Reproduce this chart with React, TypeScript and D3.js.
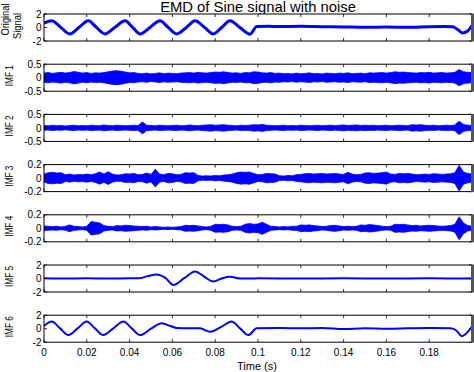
import React from "react";
import * as d3 from "d3";

const W = 474;
const H = 372;
const FONT = "'Liberation Sans', Arial, Helvetica, sans-serif";
const BLUE = "#0000ff";

// time axis
const xDomain = [0, 0.2];
const xTicks = [0, 0.02, 0.04, 0.06, 0.08, 0.1, 0.12, 0.14, 0.16, 0.18];
const xTickLabels = ["0", "0.02", "0.04", "0.06", "0.08", "0.1", "0.12", "0.14", "0.16", "0.18"];

// original signal (read at peaks / zero crossings / troughs)
const origT = [0, 0.0036, 0.0078, 0.0121, 0.0163, 0.0207, 0.0245, 0.0285, 0.033, 0.0379, 0.0414, 0.0449, 0.0495, 0.0542, 0.058, 0.062, 0.0665, 0.0706, 0.075, 0.0791, 0.083, 0.0869, 0.0915, 0.0963, 0.0994, 0.105, 0.11, 0.12, 0.13, 0.14, 0.15, 0.16, 0.17, 0.18, 0.187, 0.191, 0.1935, 0.1955, 0.1978, 0.2];
const origV = [0.65, 1.0, 0.02, -0.95, 0.0, 1.0, 0.02, -0.95, 0.0, 1.0, 0.02, -0.95, 0.0, 1.0, 0.02, -0.95, 0.0, 1.0, 0.02, -0.95, 0.0, 1.0, 0.0, -1.0, 0.15, 0.18, 0.14, 0.18, 0.12, 0.08, 0.03, 0.06, 0.02, 0.12, 0.15, 0.1, -0.35, -0.8, -0.55, 0.3];

// noisy IMFs: half-width of the noise band, every 2 ms from 0 to 0.2 s
const envStep = 0.002;
const imf1Env = [
  0.17, 0.19, 0.16, 0.18, 0.2, 0.17, 0.19, 0.23, 0.2, 0.17, 0.19, 0.16, 0.18, 0.17, 0.19,
  0.22, 0.25, 0.26, 0.24, 0.21, 0.18, 0.19, 0.16, 0.15, 0.17, 0.14, 0.16, 0.18, 0.15, 0.17,
  0.16, 0.15, 0.17, 0.18, 0.19, 0.17, 0.2, 0.18, 0.17, 0.19, 0.21, 0.2, 0.22, 0.19, 0.17,
  0.18, 0.16, 0.19, 0.18, 0.22, 0.21, 0.18, 0.17, 0.19, 0.16, 0.17, 0.15, 0.16, 0.14, 0.17,
  0.15, 0.16, 0.18, 0.15, 0.16, 0.14, 0.17, 0.16, 0.15, 0.17, 0.16, 0.18, 0.15, 0.16, 0.17,
  0.15, 0.18, 0.17, 0.18, 0.19, 0.17, 0.19, 0.22, 0.2, 0.21, 0.19, 0.18, 0.17, 0.19, 0.18,
  0.2, 0.17, 0.18, 0.19, 0.17, 0.18, 0.2, 0.3, 0.22, 0.2, 0.19,
];
const imf2Env = [
  0.09, 0.08, 0.1, 0.08, 0.09, 0.07, 0.09, 0.1, 0.08, 0.09, 0.08, 0.1, 0.09, 0.08, 0.11,
  0.09, 0.08, 0.1, 0.09, 0.08, 0.09, 0.1, 0.09, 0.22, 0.1, 0.09, 0.08, 0.1, 0.09, 0.08,
  0.09, 0.1, 0.08, 0.09, 0.11, 0.09, 0.08, 0.1, 0.11, 0.12, 0.1, 0.11, 0.12, 0.1, 0.09,
  0.08, 0.1, 0.09, 0.1, 0.12, 0.11, 0.13, 0.1, 0.09, 0.08, 0.09, 0.1, 0.08, 0.09, 0.08,
  0.1, 0.09, 0.08, 0.09, 0.1, 0.08, 0.09, 0.1, 0.08, 0.1, 0.11, 0.09, 0.1, 0.11, 0.09,
  0.1, 0.09, 0.1, 0.08, 0.09, 0.1, 0.08, 0.09, 0.1, 0.09, 0.08, 0.12, 0.11, 0.12, 0.1,
  0.09, 0.1, 0.08, 0.09, 0.1, 0.09, 0.11, 0.25, 0.13, 0.1, 0.09,
];
const imf3Env = [
  0.06, 0.08, 0.085, 0.075, 0.08, 0.05, 0.06, 0.045, 0.055, 0.05, 0.06, 0.05, 0.065, 0.09, 0.06,
  0.095, 0.06, 0.045, 0.05, 0.065, 0.06, 0.07, 0.05, 0.055, 0.075, 0.055, 0.13, 0.06, 0.05, 0.07,
  0.065, 0.05, 0.055, 0.08, 0.075, 0.08, 0.04, 0.03, 0.035, 0.03, 0.04, 0.035, 0.045, 0.05, 0.06,
  0.08, 0.09, 0.085, 0.09, 0.07, 0.05, 0.055, 0.07, 0.065, 0.06, 0.035, 0.03, 0.04, 0.035, 0.05,
  0.055, 0.065, 0.07, 0.06, 0.065, 0.07, 0.06, 0.065, 0.07, 0.06, 0.055, 0.085, 0.06, 0.05, 0.055,
  0.075, 0.08, 0.07, 0.075, 0.08, 0.09, 0.06, 0.055, 0.07, 0.065, 0.07, 0.06, 0.05, 0.055, 0.06,
  0.055, 0.065, 0.06, 0.055, 0.06, 0.065, 0.08, 0.19, 0.09, 0.07, 0.06,
];
const imf4Env = [
  0.035, 0.03, 0.025, 0.03, 0.02, 0.03, 0.05, 0.03, 0.025, 0.02, 0.03, 0.1, 0.09, 0.08, 0.04,
  0.03, 0.025, 0.04, 0.035, 0.045, 0.04, 0.035, 0.03, 0.025, 0.03, 0.02, 0.025, 0.02, 0.015, 0.02,
  0.015, 0.02, 0.025, 0.045, 0.04, 0.045, 0.035, 0.025, 0.02, 0.03, 0.06, 0.055, 0.06, 0.05, 0.03,
  0.025, 0.03, 0.06, 0.07, 0.06, 0.065, 0.09, 0.06, 0.03, 0.025, 0.02, 0.025, 0.02, 0.03, 0.03,
  0.05, 0.045, 0.05, 0.04, 0.035, 0.025, 0.03, 0.04, 0.045, 0.035, 0.025, 0.03, 0.025, 0.03, 0.05,
  0.045, 0.055, 0.05, 0.04, 0.03, 0.025, 0.03, 0.06, 0.055, 0.06, 0.05, 0.04, 0.045, 0.035, 0.04,
  0.045, 0.04, 0.035, 0.03, 0.035, 0.04, 0.06, 0.17, 0.08, 0.04, 0.03,
];

// smooth IMFs
const imf5T = [0, 0.01, 0.02, 0.03, 0.04, 0.044, 0.0485, 0.0527, 0.0567, 0.0604, 0.0655, 0.0706, 0.075, 0.0791, 0.083, 0.0869, 0.092, 0.1, 0.12, 0.14, 0.16, 0.18, 0.2];
const imf5V = [0.05, 0.0, 0.02, 0.0, 0.02, 0.02, 0.35, 0.6, 0.1, -0.95, 0.05, 1.05, 0.25, -0.45, 0.0, 0.25, 0.0, 0.02, 0.0, 0.02, 0.0, 0.02, 0.0];
const imf6T = [0, 0.0036, 0.0075, 0.0114, 0.0157, 0.0199, 0.0238, 0.0277, 0.0324, 0.0371, 0.041, 0.0449, 0.05, 0.055, 0.059, 0.062, 0.068, 0.0729, 0.0776, 0.083, 0.0877, 0.0916, 0.0955, 0.0994, 0.11, 0.12, 0.13, 0.14, 0.15, 0.16, 0.17, 0.18, 0.19, 0.1928, 0.1952, 0.2];
const imf6V = [0.4, 1.05, 0.05, -0.95, 0.05, 1.05, 0.05, -0.95, 0.05, 1.05, 0.05, -0.95, 0.0, 0.8, 0.4, 0.1, 0.05, 0.05, -0.45, 0.3, 1.05, 0.05, -0.95, 0.05, 0.1, 0.05, 0.1, -0.05, 0.05, 0.0, 0.05, 0.1, 0.05, -0.3, -1.1, 0.3];

const panelLabels = [["Original", "Signal"], ["IMF 1"], ["IMF 2"], ["IMF 3"], ["IMF 4"], ["IMF 5"], ["IMF 6"]];
const panelTicks = [[-2, 0, 2], [-0.5, 0, 0.5], [-0.5, 0, 0.5], [-0.2, 0, 0.2], [-0.2, 0, 0.2], [-2, 0, 2], [-2, 0, 2]];

type Panel =
  | { kind: "line"; t: number[]; v: number[]; width: number }
  | { kind: "band"; env: number[] };

const panelData: Panel[] = [
  { kind: "line", t: origT, v: origV, width: 3 },
  { kind: "band", env: imf1Env },
  { kind: "band", env: imf2Env },
  { kind: "band", env: imf3Env },
  { kind: "band", env: imf4Env },
  { kind: "line", t: imf5T, v: imf5V, width: 2 },
  { kind: "line", t: imf6T, v: imf6V, width: 2 },
];

const left = 44;
const right = 472;
const top0 = 14;
const panelH = 27;
const pitch = 50.2;

const x = d3.scaleLinear().domain(xDomain).range([left, right]);

function PanelView({ i }: { i: number }) {
  const top = top0 + i * pitch;
  const ticks = panelTicks[i];
  const y = d3.scaleLinear().domain([ticks[0], ticks[2]]).range([top + panelH, top]);
  const p = panelData[i];
  const clipId = `clip${i}`;

  let mark: React.ReactNode = null;
  if (p.kind === "line") {
    const pts = p.t.map((t, k) => [t, p.v[k]] as [number, number]);
    const line = d3
      .line<[number, number]>()
      .x((d) => x(d[0]))
      .y((d) => y(d[1]))
      .curve(d3.curveMonotoneX);
    mark = <path d={line(pts) || ""} fill="none" stroke={BLUE} strokeWidth={p.width} strokeLinejoin="round" />;
  } else {
    const area = d3
      .area<number>()
      .x((_, k) => x(k * envStep))
      .y0((d) => y(-d))
      .y1((d) => y(d));
    mark = <path d={area(p.env) || ""} fill={BLUE} stroke={BLUE} strokeWidth={0.8} />;
  }

  const labels = panelLabels[i];
  const cy = top + panelH / 2;

  return (
    <g>
      <defs>
        <clipPath id={clipId}>
          <rect x={left} y={top} width={right - left} height={panelH} />
        </clipPath>
      </defs>
      <rect x={left} y={top} width={right - left} height={panelH} fill="#fff" />
      <g clipPath={`url(#${clipId})`}>{mark}</g>
      {xTicks.map((t) => (
        <g key={t}>
          <line x1={x(t)} x2={x(t)} y1={top} y2={top + 3} stroke="#000" strokeWidth={0.8} />
          <line x1={x(t)} x2={x(t)} y1={top + panelH} y2={top + panelH - 3} stroke="#000" strokeWidth={0.8} />
        </g>
      ))}
      {ticks.map((v) => (
        <g key={v}>
          <line x1={left} x2={left + 3} y1={y(v)} y2={y(v)} stroke="#000" strokeWidth={0.8} />
          <line x1={right} x2={right - 3} y1={y(v)} y2={y(v)} stroke="#000" strokeWidth={0.8} />
          <text x={left - 2.5} y={y(v)} dy="0.36em" textAnchor="end" fontSize={10} fontFamily={FONT} fill="#000">
            {String(v)}
          </text>
        </g>
      ))}
      <rect x={left} y={top} width={right - left} height={panelH} fill="none" stroke="#000" strokeWidth={1} />
      <rect x={471} y={top - 0.5} width={3} height={panelH + 1} fill="#555" />
      {labels.length === 2 ? (
        <>
          <text transform={`translate(8.5,${cy - 8}) rotate(-90)`} textAnchor="middle" fontSize={10} fontFamily={FONT} textLength={32} lengthAdjust="spacingAndGlyphs">
            {labels[0]}
          </text>
          <text transform={`translate(20.5,${cy - 1.5}) rotate(-90)`} textAnchor="middle" fontSize={10} fontFamily={FONT} textLength={26} lengthAdjust="spacingAndGlyphs">
            {labels[1]}
          </text>
        </>
      ) : (
        <text transform={`translate(12.5,${cy - 2}) rotate(-90)`} textAnchor="middle" fontSize={10} fontFamily={FONT} textLength={21} lengthAdjust="spacingAndGlyphs">
          {labels[0]}
        </text>
      )}
    </g>
  );
}

export default function App() {
  const lastBottom = top0 + 6 * pitch + panelH;
  return (
    <div style={{ position: "absolute", left: 0, top: 0 }}>
      <svg width={W} height={H} style={{ display: "block", background: "#fff" }}>
        <text x={258} y={12} textAnchor="middle" fontSize={14.8} fontFamily={FONT} fill="#000">
          EMD of Sine signal with noise
        </text>
        {panelLabels.map((_, i) => (
          <PanelView key={i} i={i} />
        ))}
        {xTicks.map((t, k) => (
          <text key={t} x={x(t)} y={lastBottom + 13.5} textAnchor="middle" fontSize={10} fontFamily={FONT} fill="#000">
            {xTickLabels[k]}
          </text>
        ))}
        <text x={257} y={370} textAnchor="middle" fontSize={11} fontFamily={FONT} fill="#000">
          Time (s)
        </text>
      </svg>
    </div>
  );
}
